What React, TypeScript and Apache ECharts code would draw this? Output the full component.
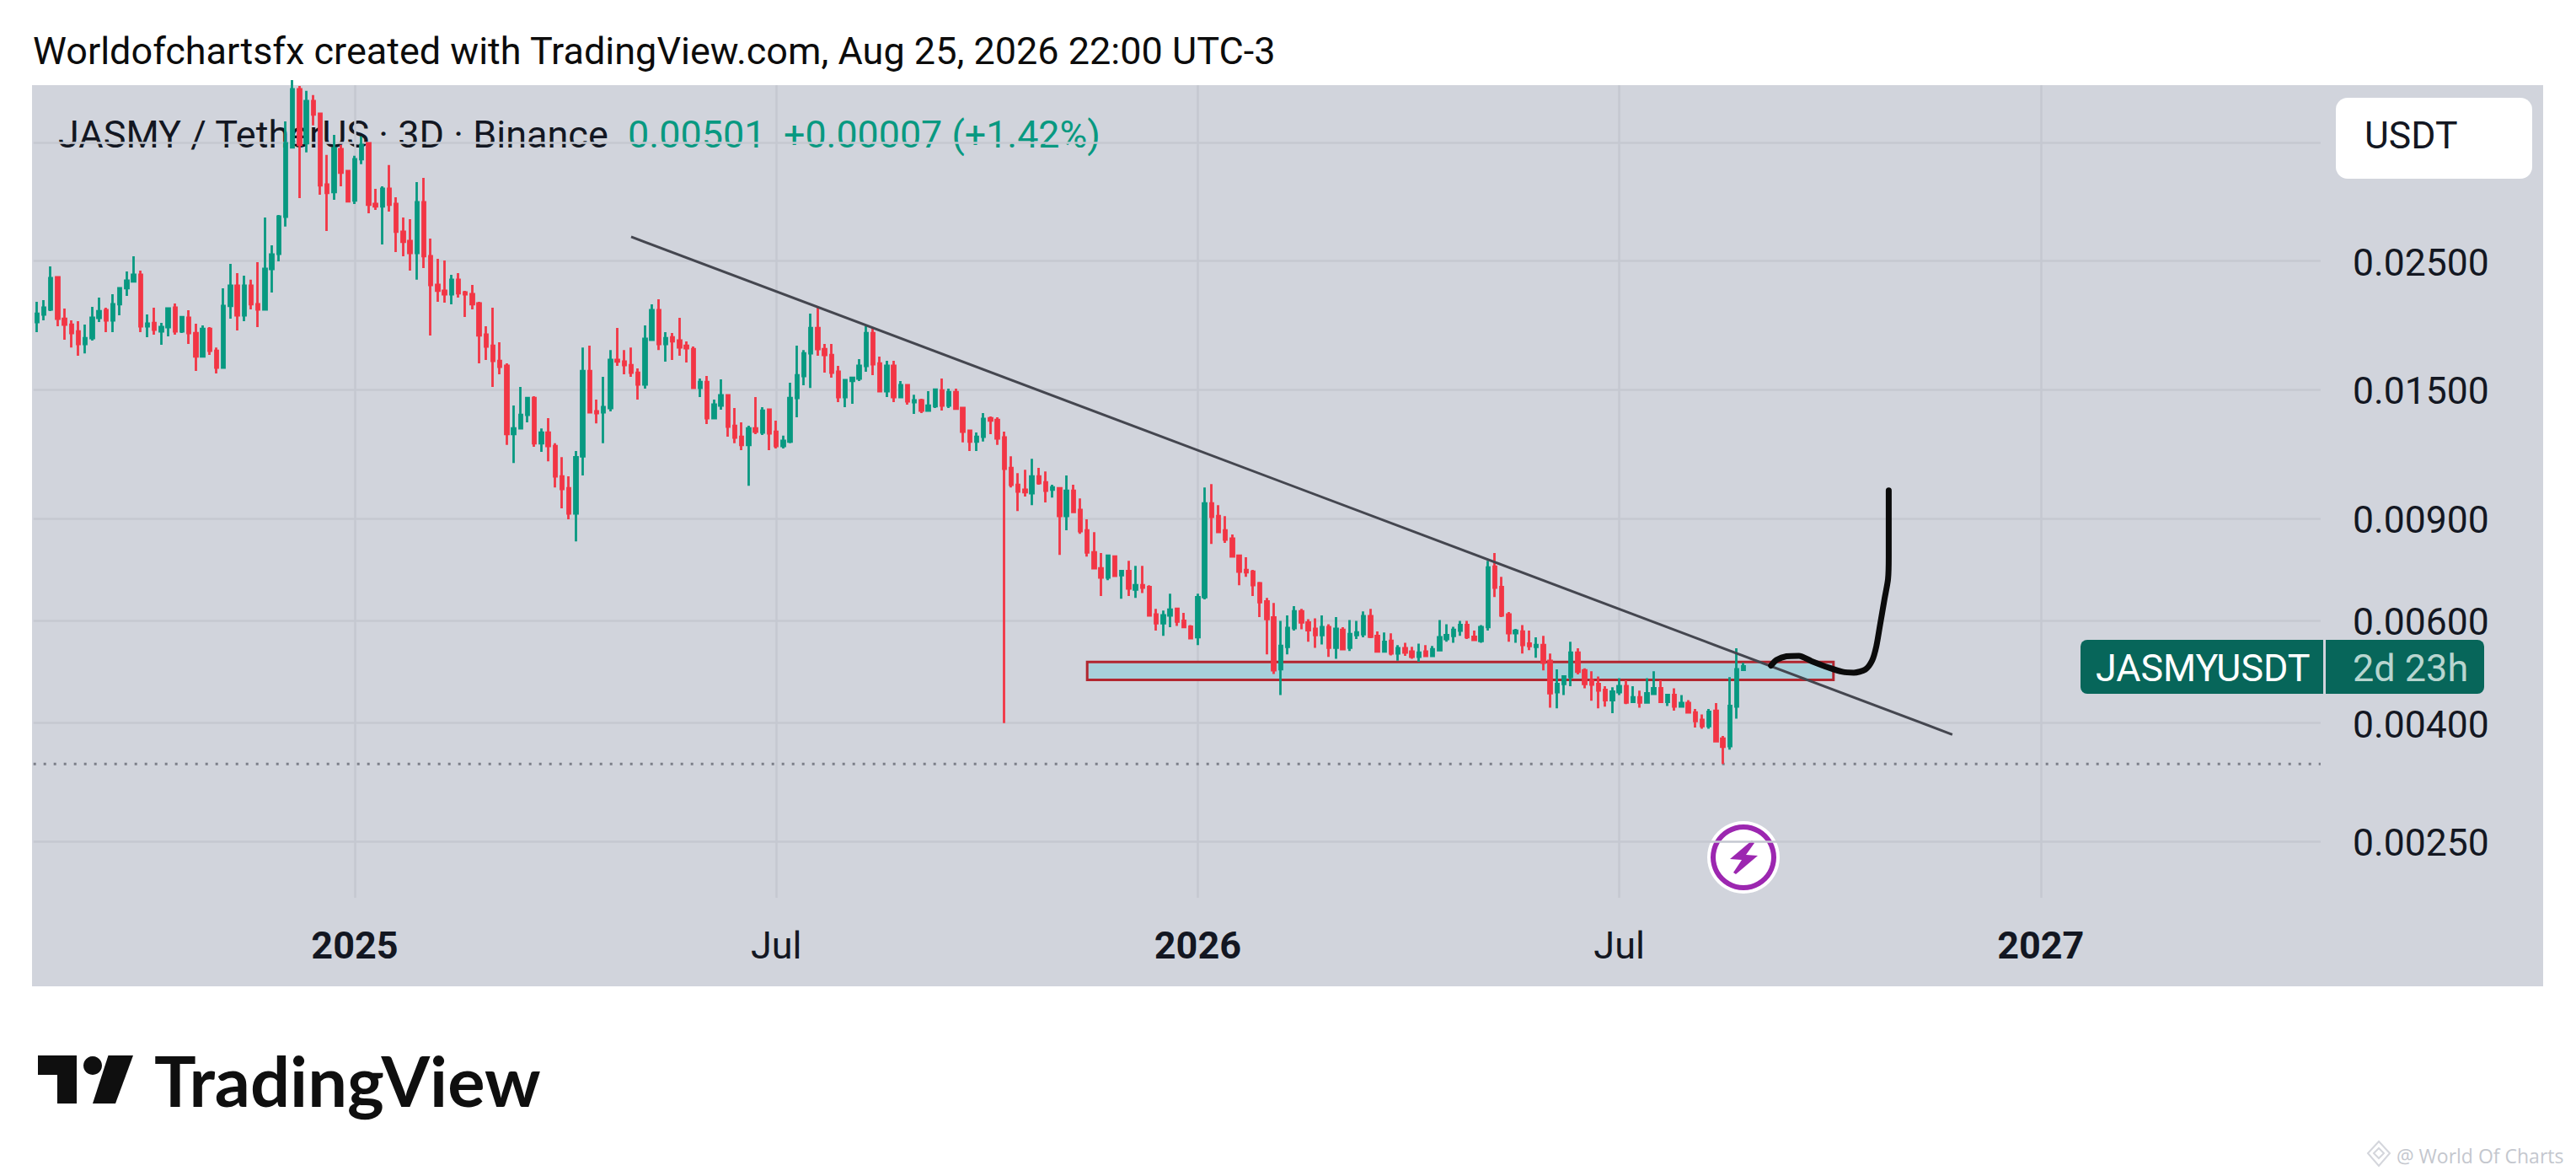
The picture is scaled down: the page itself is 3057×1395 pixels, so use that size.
import React, { useEffect, useRef } from "react";
import * as echarts from "echarts";

const FONT = "Roboto";
const UP = "#089981";
const DOWN = "#f23645";

// Each row: [open, close, low, high]
const candlesLate2024 = [
  [.01962,.02028,.01885,.02126],[.02022,.02077,.01975,.02141],[.02063,.02335,.02049,.02447],[.02343,.01988,.01929,.02351],
  [.01988,.01942,.01829,.02070],[.01942,.01878,.01774,.01975],[.01891,.01798,.01716,.01968],[.01798,.01841,.01733,.01942],
  [.01841,.01995,.01823,.02084],[.01995,.02049,.01962,.02162],[.02056,.01975,.01885,.02077],[.01975,.02105,.01885,.02191],
  [.02105,.02243,.02015,.02243],[.02243,.02312,.02177,.02398],[.02304,.02366,.02304,.02547],[.02366,.01929,.01885,.02406],
  [.01929,.01949,.01847,.02022],[.01955,.01904,.01866,.02077],[.01891,.01923,.01792,.01955],[.01923,.02070,.01853,.02077],
  [.02077,.01891,.01866,.02112],[.01891,.02001,.01878,.02008],[.01995,.01878,.01798,.02056],[.01878,.01711,.01616,.01949],
  [.01711,.01910,.01711,.01936],[.01910,.01751,.01722,.01923],[.01751,.01638,.01600,.01774],[.01638,.02091,.01638,.02243],
  [.02091,.02266,.01988,.02471],[.02266,.02015,.01897,.02382],[.02015,.02266,.01968,.02358],[.02266,.02105,.02063,.02320],
  [.02105,.02063,.01923,.02488],[.02063,.02422,.02056,.02970],[.02422,.02564,.02206,.02660],[.02572,.02980,.02496,.03000],
  [.02980,.03988,.02864,.04349],[.03921,.04939,.03921,.0512],[.04939,.03961,.03208,.05005],[.03988,.04713,.03844,.04906],
  [.04713,.04468,.04278,.04825],[.04483,.03373,.03251,.04483],[.03384,.03273,.02816,.03806],[.03284,.03908,.03187,.04123],
  [.03895,.03548,.03362,.03961],[.03572,.03166,.03155,.03572],
];
const candles2025H1 = [
  [.03176,.03743,.03134,.03793],[.03743,.03961,.03668,.04096],[.03988,.03124,.03020,.03988],[.03134,.03103,.03061,.03328],
  [.03103,.03328,.02669,.03362],[.03328,.03124,.03041,.03656],[.03134,.02807,.02590,.03219],[.02807,.02696,.02547,.02970],
  [.02705,.02581,.02406,.02951],[.02581,.03155,.02320,.03419],[.03155,.02547,.02430,.03476],[.02547,.02273,.01860,.02732],
  [.02273,.02221,.02126,.02521],[.02221,.02191,.02119,.02505],[.02191,.02320,.02105,.02366],[.02320,.02199,.02162,.02382],
  [.02206,.02191,.02001,.02221],[.02191,.02105,.02063,.02273],[.02112,.01860,.01665,.02126],[.01866,.01780,.01688,.01929],
  [.01786,.01682,.01517,.02077],[.01682,.01643,.01595,.01811],[.01649,.01258,.01205,.01665],[.01258,.01287,.01122,.01409],
  [.01287,.01358,.01287,.01517],[.01358,.01452,.01318,.01457],[.01452,.01213,.01196,.01462],[.01213,.01266,.01172,.01287],
  [.01266,.01200,.01129,.01340],[.01200,.01064,.01018,.01213],[.01064,.01012,.00937,.01148],[.01015,.00918,.00897,.01064],
  [.00918,.01148,.00822,.01176],[.01152,.01616,.01068,.01774],[.01616,.01372,.01372,.01786],[.01377,.01367,.01313,.01443],
  [.01372,.01400,.01213,.01579],[.01395,.01688,.01377,.01756],[.01688,.01677,.01649,.01916],[.01677,.01654,.01595,.01756],
  [.01654,.01605,.01579,.01774],[.01605,.01532,.01443,.01632],[.01532,.01835,.01506,.01936],[.01829,.02056,.01823,.02105],
  [.02056,.01798,.01756,.02148],[.01798,.01841,.01677,.01885],[.01847,.01817,.01688,.01878],[.01823,.01774,.01716,.01995],
  [.01786,.01768,.01671,.01817],[.01762,.01511,.01506,.01780],[.01511,.01547,.01457,.01568],[.01547,.01340,.01309,.01584],
  [.01340,.01414,.01340,.01443],[.01409,.01467,.01386,.01563],[.01467,.01296,.01245,.01471],[.01300,.01241,.01213,.01395],
  [.01245,.01205,.01180,.01318],[.01205,.01287,.01025,.01300],[.01287,.01270,.01258,.01457],[.01266,.01381,.01254,.01400],
  [.01386,.01262,.01180,.01391],
];
const candles2025H2 = [
  [.01270,.01200,.01188,.01327],[.01200,.01225,.01188,.01250],[.01221,.01452,.01213,.01542],[.01452,.01589,.01345,.01786],
  [.01584,.01733,.01527,.01756],[.01733,.01916,.01511,.02028],[.01916,.01762,.01716,.02084],[.01762,.01722,.01605,.01798],
  [.01722,.01605,.01573,.01798],[.01611,.01457,.01428,.01649],[.01457,.01558,.01400,.01563],[.01553,.01573,.01419,.01573],
  [.01568,.01649,.01553,.01694],[.01649,.01878,.01611,.01929],[.01878,.01660,.01589,.01916],[.01665,.01491,.01491,.01711],
  [.01491,.01649,.01457,.01682],[.01649,.01457,.01428,.01682],[.01457,.01527,.01452,.01553],[.01527,.01433,.01414,.01532],
  [.01428,.01438,.01363,.01471],[.01438,.01381,.01367,.01447],[.01381,.01409,.01381,.01491],[.01405,.01501,.01395,.01501],
  [.01496,.01409,.01381,.01568],[.01409,.01486,.01395,.01506],[.01486,.01391,.01391,.01506],[.01395,.01270,.01217,.01400],
  [.01275,.01221,.01176,.01279],[.01221,.01245,.01176,.01266],[.01245,.01336,.01221,.01367],[.01340,.01327,.01258,.01349],
  [.01331,.01237,.01205,.01345],[.01241,.01096,.00400,.01270],[.01100,.01029,.01018,.01152],[.01029,.01002,.00927,.01078],
  [.01009,.00999,.00982,.01092],[.00995,.01064,.00949,.01141],[.01064,.01036,.01029,.01100],[.01039,.01005,.00959,.01085],
  [.01009,.01018,.00978,.01029],[.01015,.00909,.00779,.01015],[.00909,.01005,.00859,.01068],[.01005,.00924,.00924,.01029],
  [.00931,.00856,.00847,.00975],[.00859,.00787,.00774,.00897],[.00787,.00739,.00739,.00853],[.00739,.00712,.00662,.00785],
  [.00712,.00777,.00705,.00779],[.00774,.00717,.00717,.00777],[.00719,.00731,.00655,.00734],[.00731,.00682,.00662,.00761],
  [.00679,.00691,.00657,.00746],[.00691,.00684,.00670,.00746],[.00686,.00613,.00611,.00691],[.00615,.00594,.00577,.00629],
  [.00594,.00613,.00565,.00625],[.00613,.00627,.00585,.00668],[.00629,.00598,.00588,.00631],[.00600,.00585,.00583,.00619],
  [.00586,.00560,.00558,.00590],
];
const candles2026 = [
  [.00562,.00659,.00545,.00668],[.00659,.00956,.00653,.01018],[.00956,.00906,.00814,.01032],[.00909,.00853,.00853,.00949],
  [.00859,.00828,.00817,.00909],[.00831,.00774,.00774,.00845],[.00777,.00729,.00691,.00777],[.00734,.00727,.00714,.00772],
  [.00729,.00691,.00662,.00734],[.00696,.00646,.00609,.00700],[.00648,.00604,.00525,.00657],[.00608,.00493,.00486,.00644],
  [.00495,.00543,.00447,.00600],[.00541,.00583,.00525,.00613],[.00583,.00623,.00577,.00636],[.00623,.00596,.00580,.00629],
  [.00596,.00578,.00552,.00604],[.00581,.00567,.00539,.00606],[.00567,.00585,.00546,.00613],[.00585,.00539,.00520,.00592],
  [.00539,.00581,.00516,.00609],[.00579,.00536,.00536,.00585],[.00539,.00569,.00532,.00602],[.00567,.00573,.00558,.00600],
  [.00569,.00611,.00562,.00623],[.00611,.00563,.00560,.00629],[.00565,.00531,.00529,.00575],[.00531,.00552,.00531,.00573],
  [.00554,.00527,.00523,.00571],[.00527,.00538,.00512,.00545],[.00538,.00529,.00522,.00550],[.00531,.00520,.00516,.00541],
  [.00520,.00529,.00510,.00548],[.00531,.00522,.00522,.00545],[.00522,.00536,.00520,.00543],[.00534,.00562,.00532,.00602],
  [.00558,.00567,.00552,.00592],[.00565,.00579,.00550,.00586],[.00577,.00590,.00565,.00600],[.00590,.00562,.00558,.00600],
  [.00563,.00556,.00556,.00577],[.00554,.00585,.00550,.00590],[.00585,.00741,.00577,.00761],[.00744,.00684,.00659,.00785],
  [.00686,.00613,.00609,.00714],[.00615,.00571,.00552,.00621],[.00571,.00577,.00550,.00581],[.00575,.00545,.00527,.00590],
  [.00548,.00543,.00534,.00577],[.00541,.00545,.00518,.00562],[.00545,.00508,.00493,.00565],[.00512,.00450,.00425,.00527],
  [.00452,.00467,.00424,.00495],[.00467,.00481,.00447,.00481],[.00480,.00529,.00463,.00552],[.00529,.00490,.00485,.00538],
  [.00493,.00467,.00459,.00497],[.00474,.00466,.00437,.00491],[.00467,.00455,.00424,.00481],[.00456,.00438,.00427,.00463],
  [.00438,.00453,.00416,.00461],[.00452,.00463,.00447,.00478],[.00463,.00434,.00431,.00474],[.00435,.00443,.00433,.00463],
  [.00443,.00434,.00425,.00455],[.00434,.00450,.00433,.00478],[.00449,.00459,.00449,.00491],[.00459,.00435,.00435,.00474],
  [.00435,.00447,.00428,.00449],[.00447,.00427,.00420,.00459],[.00427,.00433,.00425,.00447],[.00433,.00417,.00416,.00438],
  [.00417,.00403,.00393,.00423],[.00405,.00395,.00391,.00414],[.00395,.00418,.00391,.00423],[.00420,.00372,.00372,.00433],
  [.00376,.00364,.00340,.00380],[.00365,.00428,.00360,.00480],[.00427,.00495,.00407,.00538],[.00494,.00501,.00494,.00508],
];

const BAR_SLOTS = 331;
const timeLabels: Record<number, string> = { 46: "2025", 107: "Jul", 168: "2026", 229: "Jul", 290: "2027" };
const yGridValues = [0.0025, 0.004, 0.006, 0.009, 0.015, 0.025, 0.04];
const yLabelValues = [0.0025, 0.004, 0.006, 0.009, 0.015, 0.025];

// Drawings, as [bar index, price]
const trendLine = [[86.0, 0.02751], [277.2, 0.003822]];
const zone = [[152.0, 260.0, 0.005095, 0.004745]];
const lowLine = [[-0.5, 0.0034], [330.5, 0.0034]];
const projection = [
  [250.96, .005024],[251.77, .005137],[253.2, .005212],[255.0, .005222],[256.8, .005114],[259.3, .004984],
  [261.3, .004901],[262.95, .004885],[264.6, .004945],[265.6, .005126],[266.2, .005418],[266.7, .005859],
  [267.4, .00655],[267.9, .00708],[268.0, .007742],[268.0, .01006],
];

const candles = [...candlesLate2024, ...candles2025H1, ...candles2025H2, ...candles2026];
const firstBar = Date.UTC(2024, 7, 16);
const categories = Array.from({ length: BAR_SLOTS }, (_, i) =>
  new Date(firstBar + i * 3 * 86400000).toISOString().slice(0, 10));

const GRID_LEFT = 39.7;
const GRID_WIDTH = BAR_SLOTS * 8.2;

const txt = (text: string, x: number, y: number, fontSize: number, fill: string, extra: any = {}) => ({
  type: "text", x, y,
  style: { text, fill, fontSize, fontFamily: FONT, textVerticalAlign: "middle", verticalAlign: "middle", ...extra },
});

export default function App() {
  const ref = useRef<HTMLDivElement>(null);
  useEffect(() => {
    document.body.style.margin = "0";
    const chart = echarts.init(ref.current!, null, { renderer: "svg", width: 3057, height: 1395 });
    const option: any = {
      animation: false,
      backgroundColor: "#ffffff",
      grid: [
        { left: 38, top: 101, width: 2980, height: 1069, show: true, backgroundColor: "#d1d4dc", borderWidth: 0 },
        { left: GRID_LEFT, top: 101, width: GRID_WIDTH, height: 964, show: false },
      ],
      xAxis: [
        {
          type: "category", gridIndex: 1, data: categories, boundaryGap: true,
          axisLine: { show: false }, axisTick: { show: false },
          splitLine: {
            show: true, alignWithLabel: true,
            interval: (i: number) => timeLabels[i] !== undefined,
            lineStyle: { color: "#c5c8d1", width: 2.5 },
          },
          axisLabel: {
            interval: (i: number) => timeLabels[i] !== undefined,
            margin: 34, hideOverlap: false,
            formatter: (_: string, i: number) => {
              const t = timeLabels[i] ?? "";
              return t === "Jul" ? `{r|${t}}` : `{b|${t}}`;
            },
            rich: {
              r: { fontFamily: FONT, fontSize: 45, color: "#131722" },
              b: { fontFamily: FONT, fontSize: 45, fontWeight: 700, color: "#131722" },
            },
          },
        },
        { type: "value", gridIndex: 1, min: -0.5, max: BAR_SLOTS - 0.5, show: false, splitLine: { show: false } },
        { type: "value", gridIndex: 0, show: false, splitLine: { show: false } },
      ],
      yAxis: [
        {
          type: "log", gridIndex: 1, min: 0.002, max: 0.0502, logBase: 10, position: "right",
          axisLine: { show: false },
          axisTick: { show: false, customValues: yGridValues },
          splitLine: { show: true, lineStyle: { color: "#c5c8d1", width: 2.5 } },
          minorTick: { show: false }, minorSplitLine: { show: false },
          axisLabel: {
            customValues: yLabelValues, margin: 38, align: "left", verticalAlign: "middle",
            fontFamily: FONT, fontSize: 44.5, color: "#131722", lineHeight: 48,
            formatter: (v: number) => `{v|${Number(v).toFixed(5)}}`,
            rich: { v: { fontFamily: FONT, fontSize: 44.5, color: "#131722", padding: [4, 0, 0, 0] } },
          },
        },
        { type: "value", gridIndex: 0, show: false, splitLine: { show: false } },
      ],
      series: [
        {
          type: "custom", xAxisIndex: 1, yAxisIndex: 0, z: 1, silent: true, data: zone,
          encode: { x: [0, 1], y: [2, 3] },
          renderItem: (_: any, api: any) => {
            const a = api.coord([api.value(0), api.value(2)]);
            const b = api.coord([api.value(1), api.value(3)]);
            return {
              type: "rect",
              shape: { x: a[0], y: a[1], width: b[0] - a[0], height: b[1] - a[1] },
              style: { fill: "#a8d0da", stroke: "#b2262f", lineWidth: 3 },
            };
          },
        },
        {
          type: "line", xAxisIndex: 1, yAxisIndex: 0, z: 1, silent: true, data: lowLine, showSymbol: false,
          lineStyle: { color: "#7b7e88", width: 3, type: [3, 9] },
        },
        {
          type: "candlestick", xAxisIndex: 0, yAxisIndex: 0, z: 3, silent: true, data: candles,
          barWidth: 4,
          itemStyle: { color: UP, color0: DOWN, borderColor: UP, borderColor0: DOWN, borderWidth: 2.8 },
        },
        {
          type: "line", xAxisIndex: 1, yAxisIndex: 0, z: 4, silent: true, data: trendLine, showSymbol: false,
          lineStyle: { color: "#44464f", width: 3 },
        },
        {
          type: "line", xAxisIndex: 1, yAxisIndex: 0, z: 5, silent: true, data: projection, showSymbol: false,
          smooth: 0.25,
          lineStyle: { color: "#0b0b0b", width: 7, cap: "round", join: "round" },
        },
      ],
      graphic: {
        z: 100,
        elements: [
          txt("Worldofchartsfx created with TradingView.com, Aug 25, 2026 22:00 UTC-3", 39, 60, 45, "#0c0c0c"),
          txt("JASMY / TetherUS · 3D · Binance", 69, 159, 45, "#131722"),
          txt("0.00501", 745, 159, 45, UP),
          txt("+0.00007 (+1.42%)", 930, 159, 44.8, UP),
          { type: "rect", shape: { x: 2772, y: 116, width: 233, height: 96, r: 14 }, style: { fill: "#ffffff" } },
          txt("USDT", 2806, 161, 44.5, "#131722"),
          { type: "rect", shape: { x: 2469, y: 759, width: 288, height: 64, r: [8, 0, 0, 8] }, style: { fill: "#07665a" } },
          { type: "rect", shape: { x: 2760, y: 759, width: 188, height: 64, r: [0, 8, 8, 0] }, style: { fill: "#07665a" } },
          txt("JASMYUSDT", 2487, 792, 44.8, "#ffffff"),
          txt("2d 23h", 2792, 792, 45, "#b8d5cf"),
          { type: "circle", shape: { cx: 2069, cy: 1017, r: 43 }, style: { fill: "#ffffff" } },
          { type: "ring", shape: { cx: 2069, cy: 1017, r: 39, r0: 33 }, style: { fill: "#9c27b0" } },
          {
            type: "polygon",
            shape: { points: [[2079, 997], [2082, 1000], [2072, 1014], [2086, 1015], [2060, 1037], [2057, 1035], [2067, 1020], [2053, 1019]] },
            style: { fill: "#9c27b0" },
          },
          { type: "polygon", shape: { points: [[45, 1252], [91, 1252], [91, 1309], [68, 1309], [68, 1275], [45, 1275]] }, style: { fill: "#0f0f0f" } },
          { type: "circle", shape: { cx: 110, cy: 1264, r: 11 }, style: { fill: "#0f0f0f" } },
          { type: "polygon", shape: { points: [[128.5, 1252], [158, 1252], [137, 1309], [110, 1309]] }, style: { fill: "#0f0f0f" } },
          txt("TradingView", 183, 1281, 83, "#0f0f0f", { fontFamily: "Lato", fontWeight: 700 }),
          { type: "polygon", shape: { points: [[2823, 1354], [2836, 1368], [2823, 1383], [2810, 1368]] }, style: { fill: "none", stroke: "#d4d6dc", lineWidth: 2 } },
          { type: "polygon", shape: { points: [[2823, 1362], [2829, 1368], [2823, 1374], [2817, 1368]] }, style: { fill: "none", stroke: "#d4d6dc", lineWidth: 2 } },
          txt("@ World Of Charts", 2844, 1371, 23, "#c4c7ce", { fontFamily: "Open Sans" }),
        ],
      },
    };
    chart.setOption(option);
    return () => chart.dispose();
  }, []);
  return <div ref={ref} style={{ width: 3057, height: 1395 }} />;
}
